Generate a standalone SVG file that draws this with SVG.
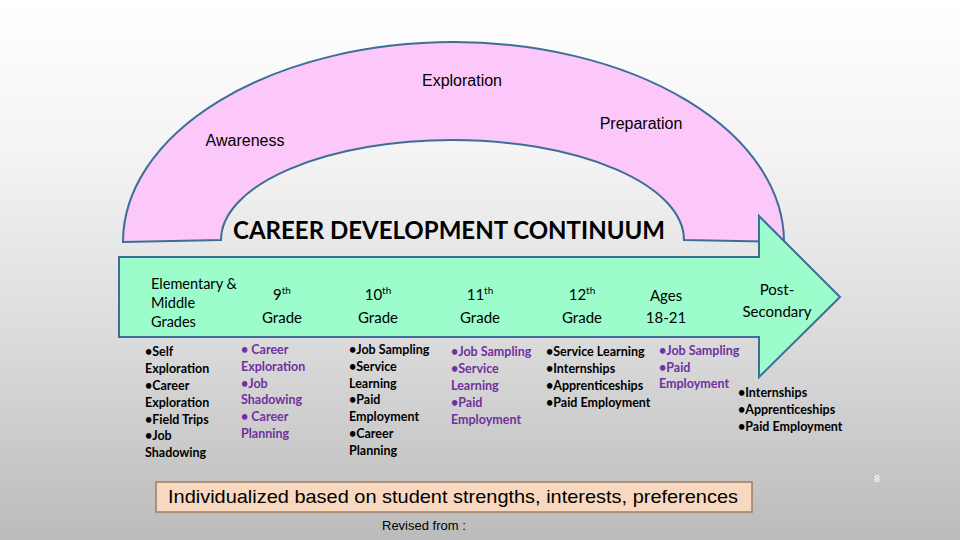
<svg xmlns="http://www.w3.org/2000/svg" width="960" height="540" viewBox="0 0 960 540">
<defs>
<linearGradient id="bg" x1="0" y1="0" x2="0" y2="1">
<stop offset="0" stop-color="#ffffff"/>
<stop offset="0.3" stop-color="#f3f3f3"/>
<stop offset="0.65" stop-color="#d9d9d9"/>
<stop offset="1" stop-color="#bbbbbb"/>
</linearGradient>
<style>
.arial{font-family:"Liberation Sans",Arial,sans-serif;fill:#000}
.cal{font-family:Lato,"Open Sans",sans-serif;fill:#000}
.head{font-size:15px;text-anchor:middle}
.blk{font-size:12.5px;font-weight:bold;fill:#000}
.pur{font-size:12.5px;font-weight:bold;fill:#7030a0}
</style>
</defs>
<rect x="0" y="0" width="960" height="540" fill="url(#bg)"/>

<g id="arch">
<path d="M123,242 A330.5,200 0 0 1 784,242 L684,240 A231.5,100 0 0 0 221,240 Z" fill="#fcc8fa" stroke="#3c6e96" stroke-width="2"/>
<text class="arial" x="462" y="86" font-size="16" text-anchor="middle">Exploration</text>
<text class="arial" x="641" y="129" font-size="16" text-anchor="middle">Preparation</text>
<text class="arial" x="245" y="146" font-size="16" text-anchor="middle">Awareness</text>
</g>

<g id="title">
<text class="cal" x="233" y="239" font-size="24" font-weight="bold" textLength="432" lengthAdjust="spacingAndGlyphs">CAREER DEVELOPMENT CONTINUUM</text>
</g>

<g id="arrow">
<polygon points="119,257 759,257 759,216 840,297 759,377 759,337 119,337" fill="#9dfccc" stroke="#3c6e96" stroke-width="2"/>
<text class="cal" font-size="14.5"><tspan x="151" y="289">Elementary &amp;</tspan><tspan x="151" y="308">Middle</tspan><tspan x="151" y="327">Grades</tspan></text>
<text class="cal head" x="282" y="300">9<tspan font-size="10" dy="-6">th</tspan></text>
<text class="cal head" x="282" y="323">Grade</text>
<text class="cal head" x="378" y="300">10<tspan font-size="10" dy="-6">th</tspan></text>
<text class="cal head" x="378" y="323">Grade</text>
<text class="cal head" x="480" y="300">11<tspan font-size="10" dy="-6">th</tspan></text>
<text class="cal head" x="480" y="323">Grade</text>
<text class="cal head" x="582" y="300">12<tspan font-size="10" dy="-6">th</tspan></text>
<text class="cal head" x="582" y="323">Grade</text>
<text class="cal head" x="666" y="301">Ages</text>
<text class="cal head" x="666" y="323">18-21</text>
<text class="cal head" x="777" y="295">Post-</text>
<text class="cal head" x="777" y="317">Secondary</text>
</g>

<g id="col1">
<text class="cal blk"><tspan x="145" y="356">•Self</tspan><tspan x="145" y="373">Exploration</tspan><tspan x="145" y="390">•Career</tspan><tspan x="145" y="407">Exploration</tspan><tspan x="145" y="424">•Field Trips</tspan><tspan x="145" y="440">•Job</tspan><tspan x="145" y="457">Shadowing</tspan></text>
</g>
<g id="col2">
<text class="cal pur"><tspan x="241" y="354">• Career</tspan><tspan x="241" y="371">Exploration</tspan><tspan x="241" y="388">•Job</tspan><tspan x="241" y="404">Shadowing</tspan><tspan x="241" y="421">• Career</tspan><tspan x="241" y="438">Planning</tspan></text>
</g>
<g id="col3">
<text class="cal blk"><tspan x="349" y="354">•Job Sampling</tspan><tspan x="349" y="371">•Service</tspan><tspan x="349" y="388">Learning</tspan><tspan x="349" y="404">•Paid</tspan><tspan x="349" y="421">Employment</tspan><tspan x="349" y="438">•Career</tspan><tspan x="349" y="455">Planning</tspan></text>
</g>
<g id="col4">
<text class="cal pur"><tspan x="451" y="356">•Job Sampling</tspan><tspan x="451" y="373">•Service</tspan><tspan x="451" y="390">Learning</tspan><tspan x="451" y="407">•Paid</tspan><tspan x="451" y="424">Employment</tspan></text>
</g>
<g id="col5">
<text class="cal blk"><tspan x="546" y="356">•Service Learning</tspan><tspan x="546" y="373">•Internships</tspan><tspan x="546" y="390">•Apprenticeships</tspan><tspan x="546" y="407">•Paid Employment</tspan></text>
</g>
<g id="col6">
<text class="cal pur"><tspan x="659" y="355">•Job Sampling</tspan><tspan x="659" y="372">•Paid</tspan><tspan x="659" y="388">Employment</tspan></text>
</g>
<g id="col7">
<text class="cal blk"><tspan x="738" y="397">•Internships</tspan><tspan x="738" y="414">•Apprenticeships</tspan><tspan x="738" y="431">•Paid Employment</tspan></text>
</g>

<g id="note">
<rect x="156" y="482" width="596" height="30" fill="#f8d8bf" stroke="#9c7e66" stroke-width="1.5"/>
<text class="arial" x="168" y="503" font-size="19" textLength="570" lengthAdjust="spacingAndGlyphs">Individualized based on student strengths, interests, preferences</text>
</g>
<text class="arial" x="382" y="530" font-size="13" fill="#222">Revised from :</text>
<text x="877" y="482" font-family="Lato,sans-serif" font-size="10" font-weight="bold" fill="#f8f8f8" text-anchor="middle">8</text>
</svg>
